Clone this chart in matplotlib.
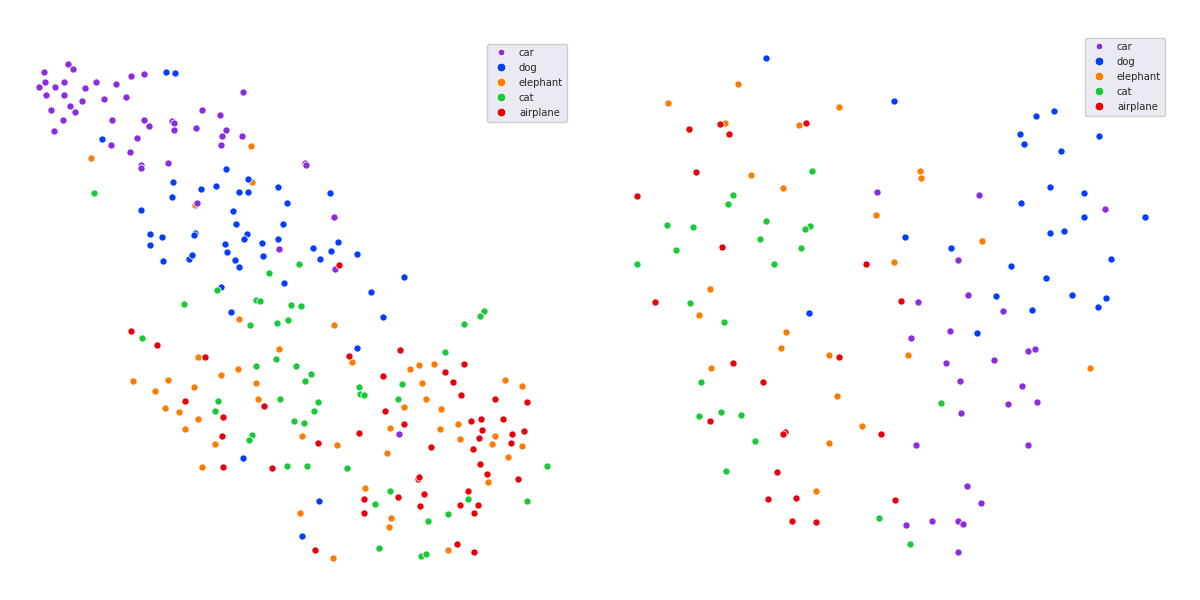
import matplotlib.pyplot as plt
from matplotlib.lines import Line2D

# estimated embedding coordinates (y grows downward)
left_car = [(68,64),(73,69),(44,72),(45,82),(39,87),(55,87),(64,82),(46,95),(64,95),(51,110),
            (70,106),(75,112),(63,120),(54,131),(82,101),(85,88),(96,82),(104,99),(116,84),(112,120),
            (131,76),(144,74),(126,97),(111,145),(137,138),(130,152),(141,165),(141,168),(144,120),(149,126),
            (172,121),(174,123),(174,130),(168,163),(196,128),(202,110),(219,115),(225,130),(221,136),(220,145),
            (241,136),(242,92),(197,203),(304,163),(305,165),(333,217),(278,249),(334,269),(398,434)]
left_dog = [(166,72),(175,73),(102,139),(225,169),(247,179),(173,182),(201,189),(216,186),(238,192),(247,192),
            (277,187),(286,203),(172,197),(141,210),(232,211),(329,193),(235,224),(282,224),(150,234),(150,245),
            (162,237),(163,261),(195,233),(194,235),(189,259),(192,255),(224,244),(226,252),(246,234),(243,239),
            (234,260),(238,267),(261,243),(262,256),(277,239),(312,248),(330,251),(337,242),(319,259),(356,254),
            (283,283),(220,287),(403,277),(370,292),(382,317),(230,312),(356,348),(242,458),(318,501),(301,536)]
left_elephant = [(91,158),(250,146),(251,182),(195,205),(238,319),(333,325),(198,357),(278,349),(237,369),(220,375),
                 (133,381),(168,380),(155,391),(194,387),(255,383),(257,399),(165,408),(179,412),(198,419),(185,429),
                 (301,436),(215,444),(336,445),(202,467),(351,362),(409,369),(418,365),(433,364),(421,383),(425,399),
                 (403,407),(440,409),(389,428),(439,429),(457,424),(459,439),(494,436),(491,444),(521,446),(507,457),
                 (504,380),(521,386),(386,453),(487,482),(364,488),(390,518),(388,527),(447,550),(332,558),(299,513)]
left_cat = [(94,193),(298,264),(268,273),(217,290),(184,304),(255,300),(259,301),(290,305),(300,306),(249,325),
            (276,323),(287,320),(142,338),(275,359),(255,366),(295,366),(310,374),(304,381),(218,401),(279,399),
            (215,411),(317,402),(313,411),(293,421),(303,423),(251,435),(248,440),(286,466),(306,466),(346,468),
            (483,311),(479,316),(463,324),(444,352),(358,387),(359,394),(363,395),(401,384),(397,399),(546,466),
            (389,491),(374,504),(467,499),(526,501),(427,521),(447,514),(378,548),(420,556),(425,554)]
left_airplane = [(338,265),(131,331),(157,345),(205,357),(185,401),(263,406),(222,417),(221,436),(317,443),(222,467),
                 (271,468),(348,356),(399,350),(463,364),(382,376),(444,372),(452,382),(460,395),(494,399),(526,402),
                 (384,411),(403,424),(470,421),(480,419),(502,419),(481,430),(478,438),(523,431),(511,434),(510,443),
                 (472,449),(358,433),(430,447),(479,464),(486,474),(517,479),(417,479),(418,477),(423,494),(467,491),
                 (363,499),(397,497),(363,513),(419,506),(459,505),(477,505),(473,513),(456,544),(473,552),(314,550)]

right_car = [(877,192),(978,195),(1104,209),(957,260),(967,295),(917,302),(1002,311),(949,331),(910,338),(945,363),
             (993,360),(1027,351),(1034,349),(959,381),(1021,386),(960,413),(1007,404),(1036,402),(915,445),(1027,445),
             (966,486),(980,503),(905,525),(931,521),(957,521),(962,524),(957,552)]
right_dog = [(766,58),(893,101),(1035,116),(1053,111),(1019,134),(1023,144),(1098,136),(1060,151),(1049,187),(1083,193),
             (1020,203),(1083,217),(1144,217),(1049,233),(1063,231),(904,237),(950,248),(1010,266),(1110,259),(1045,278),
             (995,296),(1071,295),(1105,298),(809,313),(1031,310),(1097,307),(976,333)]
right_elephant = [(738,84),(668,103),(839,107),(725,123),(799,125),(751,175),(783,188),(876,215),(710,289),(919,171),
                  (920,178),(981,241),(893,262),(699,315),(786,332),(781,348),(829,355),(711,368),(837,396),(862,426),
                  (829,443),(816,491),(907,355),(1089,368)]
right_cat = [(812,171),(733,195),(728,204),(667,225),(693,227),(766,221),(810,226),(805,229),(676,250),(760,239),
             (801,248),(637,264),(774,264),(690,303),(724,322),(701,382),(699,416),(721,412),(741,415),(755,441),
             (726,471),(879,518),(940,403),(909,544)]
right_airplane = [(689,129),(720,124),(729,134),(806,123),(696,172),(637,196),(722,247),(866,264),(655,302),(900,301),
                  (733,363),(763,382),(839,357),(710,421),(785,432),(783,434),(881,434),(777,472),(768,499),(796,498),
                  (792,521),(816,522),(894,500)]

labels = ['car', 'dog', 'elephant', 'cat', 'airplane']
colors = {'car': '#8b2be2', 'dog': '#023eff', 'elephant': '#ff7c00', 'cat': '#1ac938', 'airplane': '#e8000b'}
draw_order = ['elephant', 'dog', 'cat', 'car', 'airplane']

left = {'car': left_car, 'dog': left_dog, 'elephant': left_elephant, 'cat': left_cat, 'airplane': left_airplane}
right = {'car': right_car, 'dog': right_dog, 'elephant': right_elephant, 'cat': right_cat, 'airplane': right_airplane}

fig = plt.figure(figsize=(12, 6), dpi=100)
ax1 = fig.add_axes([0.0117, 0.0283, 0.465, 0.907])
ax2 = fig.add_axes([0.51, 0.0383, 0.465, 0.907])

for ax, groups in [(ax1, left), (ax2, right)]:
    for name in draw_order:
        pts = groups[name]
        ax.scatter([p[0] for p in pts], [p[1] for p in pts], s=27, c=colors[name],
                   edgecolors='white', linewidths=0.6)
    ax.invert_yaxis()
    ax.axis('off')
    handles = [Line2D([], [], ls='', marker='o', color=colors[n], markeredgecolor='white',
                      markeredgewidth=0.6, markersize=4.8 if n == 'car' else 6.3) for n in labels]
    leg = ax.legend(handles, labels, loc='upper right', fontsize=7.2, frameon=True,
                    facecolor='#eaeaf2', edgecolor='0.8', framealpha=1, labelspacing=0.5)
    for t in leg.get_texts():
        t.set_color('0.15')

plt.savefig('out.png')
